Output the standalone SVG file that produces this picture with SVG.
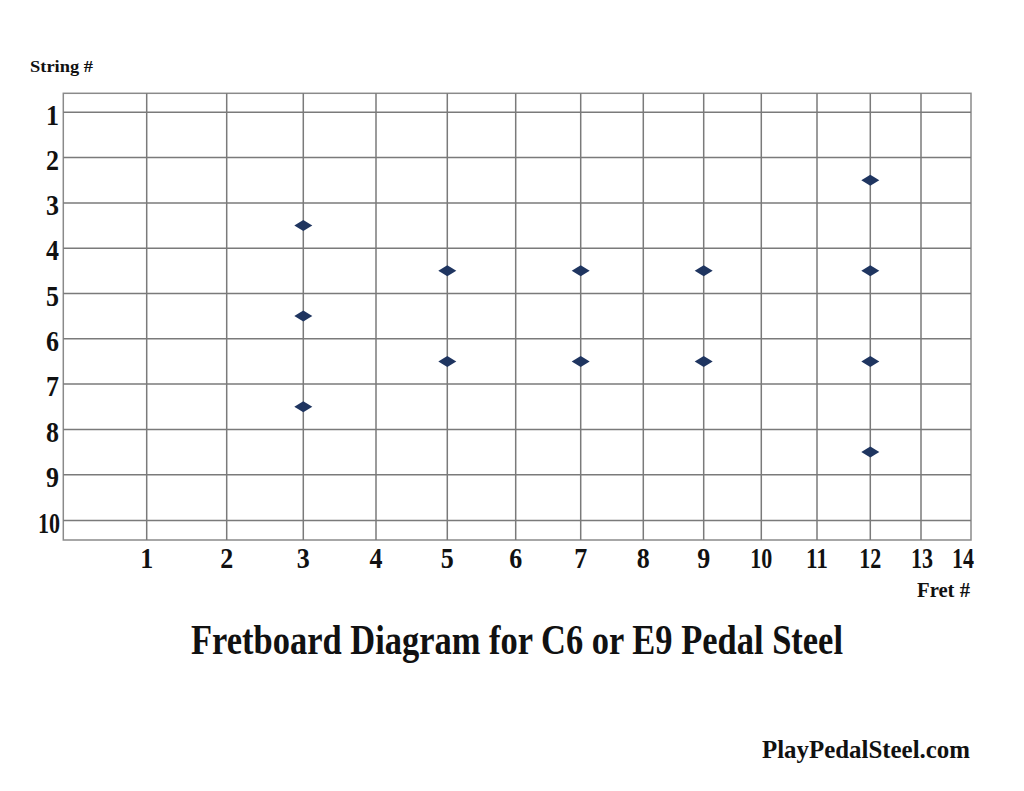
<svg xmlns="http://www.w3.org/2000/svg" width="1024" height="791" viewBox="0 0 1024 791">
<style>
.grid line{stroke:#7a7a7a;stroke-width:1.5}
.num{font-family:"Liberation Serif",serif;font-weight:bold;font-size:30px;fill:#111}
.lbl{font-family:"Liberation Serif",serif;font-weight:bold;fill:#111}
.dot{fill:#1f3560}
</style>
<defs>
<polygon id="d" points="-9,0 0,-5.5 9,0 0,5.5"/>
</defs>
<rect width="1024" height="791" fill="#fff"/>
<text class="lbl" x="30" y="72" font-size="17" textLength="63" lengthAdjust="spacingAndGlyphs">String #</text>
<g id="grid" class="grid">
<rect x="63.3" y="93.3" width="907.7" height="446.7" fill="none" stroke="#8a8a8a" stroke-width="1.5"/>
<line x1="63.3" y1="112.3" x2="971" y2="112.3"/>
<line x1="63.3" y1="157.6" x2="971" y2="157.6"/>
<line x1="63.3" y1="202.9" x2="971" y2="202.9"/>
<line x1="63.3" y1="248.2" x2="971" y2="248.2"/>
<line x1="63.3" y1="293.5" x2="971" y2="293.5"/>
<line x1="63.3" y1="338.8" x2="971" y2="338.8"/>
<line x1="63.3" y1="384.1" x2="971" y2="384.1"/>
<line x1="63.3" y1="429.4" x2="971" y2="429.4"/>
<line x1="63.3" y1="474.7" x2="971" y2="474.7"/>
<line x1="63.3" y1="520.5" x2="971" y2="520.5"/>
<line x1="146.7" y1="93.3" x2="146.7" y2="540"/>
<line x1="226.7" y1="93.3" x2="226.7" y2="540"/>
<line x1="303.3" y1="93.3" x2="303.3" y2="540"/>
<line x1="376" y1="93.3" x2="376" y2="540"/>
<line x1="447.3" y1="93.3" x2="447.3" y2="540"/>
<line x1="515.7" y1="93.3" x2="515.7" y2="540"/>
<line x1="580.7" y1="93.3" x2="580.7" y2="540"/>
<line x1="643.3" y1="93.3" x2="643.3" y2="540"/>
<line x1="703.7" y1="93.3" x2="703.7" y2="540"/>
<line x1="761.3" y1="93.3" x2="761.3" y2="540"/>
<line x1="817" y1="93.3" x2="817" y2="540"/>
<line x1="870.3" y1="93.3" x2="870.3" y2="540"/>
<line x1="921" y1="93.3" x2="921" y2="540"/>
</g>
<g id="string-labels" class="num" text-anchor="end">
<text x="59" y="124.5" textLength="13" lengthAdjust="spacingAndGlyphs">1</text>
<text x="59" y="169.8" textLength="13" lengthAdjust="spacingAndGlyphs">2</text>
<text x="59" y="215.1" textLength="13" lengthAdjust="spacingAndGlyphs">3</text>
<text x="59" y="260.4" textLength="13" lengthAdjust="spacingAndGlyphs">4</text>
<text x="59" y="305.7" textLength="13" lengthAdjust="spacingAndGlyphs">5</text>
<text x="59" y="351" textLength="13" lengthAdjust="spacingAndGlyphs">6</text>
<text x="59" y="396.3" textLength="13" lengthAdjust="spacingAndGlyphs">7</text>
<text x="59" y="441.6" textLength="13" lengthAdjust="spacingAndGlyphs">8</text>
<text x="59" y="486.9" textLength="13" lengthAdjust="spacingAndGlyphs">9</text>
<text x="60" y="532.5" textLength="22" lengthAdjust="spacingAndGlyphs">10</text>
</g>
<g id="fret-labels" class="num" text-anchor="middle">
<text x="146.7" y="567.5" textLength="13" lengthAdjust="spacingAndGlyphs">1</text>
<text x="226.7" y="567.5" textLength="13" lengthAdjust="spacingAndGlyphs">2</text>
<text x="303.3" y="567.5" textLength="13" lengthAdjust="spacingAndGlyphs">3</text>
<text x="376" y="567.5" textLength="13" lengthAdjust="spacingAndGlyphs">4</text>
<text x="447.3" y="567.5" textLength="13" lengthAdjust="spacingAndGlyphs">5</text>
<text x="515.7" y="567.5" textLength="13" lengthAdjust="spacingAndGlyphs">6</text>
<text x="580.7" y="567.5" textLength="13" lengthAdjust="spacingAndGlyphs">7</text>
<text x="643.3" y="567.5" textLength="13" lengthAdjust="spacingAndGlyphs">8</text>
<text x="703.7" y="567.5" textLength="13" lengthAdjust="spacingAndGlyphs">9</text>
<text x="761.3" y="567.5" textLength="22" lengthAdjust="spacingAndGlyphs">10</text>
<text x="817" y="567.5" textLength="22" lengthAdjust="spacingAndGlyphs">11</text>
<text x="870.3" y="567.5" textLength="22" lengthAdjust="spacingAndGlyphs">12</text>
<text x="922" y="567.5" textLength="22" lengthAdjust="spacingAndGlyphs">13</text>
<text x="963" y="567.5" textLength="22" lengthAdjust="spacingAndGlyphs">14</text>
</g>
<text class="lbl" x="970" y="597" font-size="20" text-anchor="end" textLength="53" lengthAdjust="spacingAndGlyphs">Fret #</text>
<g id="markers" class="dot">
<use href="#d" x="303.3" y="225.5"/>
<use href="#d" x="303.3" y="316.1"/>
<use href="#d" x="303.3" y="406.7"/>
<use href="#d" x="447.3" y="270.8"/>
<use href="#d" x="447.3" y="361.4"/>
<use href="#d" x="580.7" y="270.8"/>
<use href="#d" x="580.7" y="361.4"/>
<use href="#d" x="703.7" y="270.8"/>
<use href="#d" x="703.7" y="361.4"/>
<use href="#d" x="870.3" y="180.2"/>
<use href="#d" x="870.3" y="270.8"/>
<use href="#d" x="870.3" y="361.4"/>
<use href="#d" x="870.3" y="452"/>
</g>
<text class="lbl" x="191" y="654" font-size="42" textLength="652" lengthAdjust="spacingAndGlyphs">Fretboard Diagram for C6 or E9 Pedal Steel</text>
<text class="lbl" x="762" y="758" font-size="26" textLength="208" lengthAdjust="spacingAndGlyphs">PlayPedalSteel.com</text>
</svg>
